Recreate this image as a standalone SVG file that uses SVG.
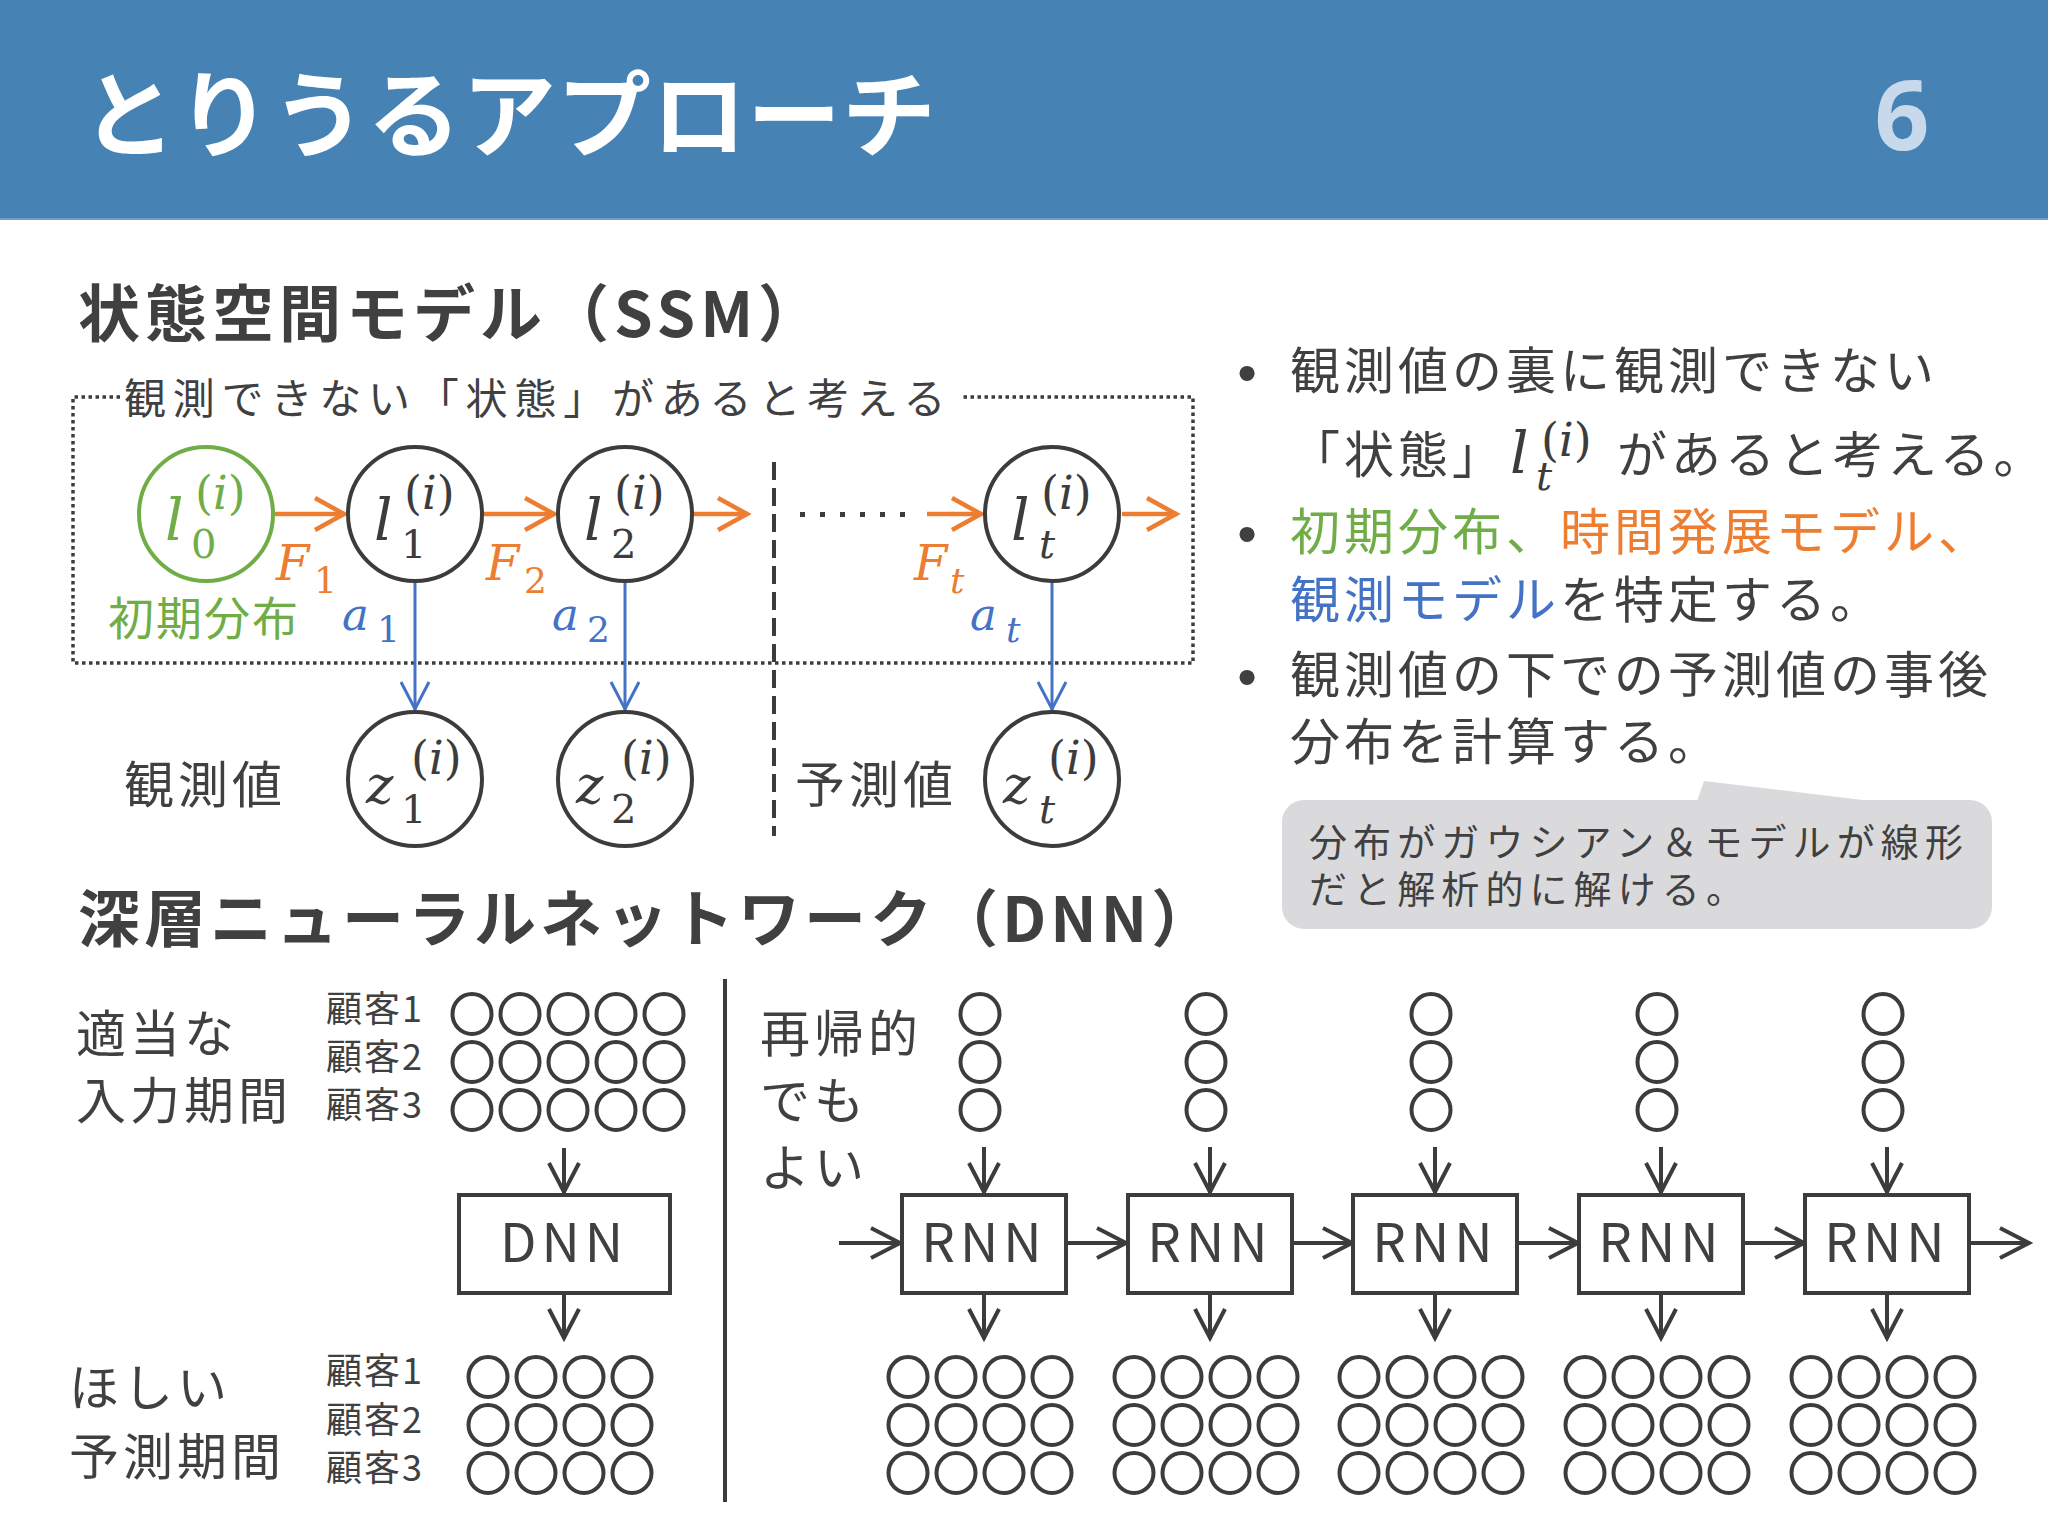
<svg xmlns="http://www.w3.org/2000/svg" width="2048" height="1536" viewBox="0 0 2048 1536">
<defs>
<style>
.jp{font-family:'Noto Sans CJK JP','Noto Sans',sans-serif;fill:#404040}
.b{font-weight:bold}
.m{font-family:'DejaVu Serif','Liberation Serif',serif;font-style:italic;fill:#3c3c3c}
.up{font-style:normal}
.node{fill:none;stroke:#3c3c3c;stroke-width:4}
.cir{fill:none;stroke:#3c3c3c;stroke-width:4}
.box{fill:#fff;stroke:#3c3c3c;stroke-width:4}
.or{stroke:#ED7D31;stroke-width:4.5;fill:none}
.bl{stroke:#4472C4;stroke-width:3;fill:none}
.dk{stroke:#3c3c3c;stroke-width:4;fill:none}
.green{fill:#70AD47}
.orange{fill:#ED7D31}
.blue{fill:#4472C4}
.bul{font-family:'Liberation Sans',sans-serif;font-size:56px;fill:#404040}
</style>
<marker id="ao" viewBox="0 0 32 34" refX="31" refY="17" markerWidth="32" markerHeight="34" markerUnits="userSpaceOnUse" orient="auto" overflow="visible">
<path d="M1,1 L30,17 L1,33" fill="none" stroke="#ED7D31" stroke-width="4.5"/>
</marker>
<marker id="ab" viewBox="0 0 30 30" refX="29" refY="15" markerWidth="30" markerHeight="30" markerUnits="userSpaceOnUse" orient="auto" overflow="visible">
<path d="M1,1 L28,15 L1,29" fill="none" stroke="#4472C4" stroke-width="3"/>
</marker>
<marker id="ad" viewBox="0 0 32 32" refX="31" refY="16" markerWidth="32" markerHeight="32" markerUnits="userSpaceOnUse" orient="auto" overflow="visible">
<path d="M1,1 L30,16 L1,31" fill="none" stroke="#3c3c3c" stroke-width="4"/>
</marker>
<g id="incol" class="cir">
<ellipse cx="0" cy="1014" rx="19.5" ry="20"/><ellipse cx="0" cy="1062" rx="19.5" ry="20"/><ellipse cx="0" cy="1110" rx="19.5" ry="20"/>
</g>
<g id="outgrid" class="cir">
<ellipse cx="-72" cy="1377" rx="19.5" ry="20"/><ellipse cx="-24" cy="1377" rx="19.5" ry="20"/><ellipse cx="24" cy="1377" rx="19.5" ry="20"/><ellipse cx="72" cy="1377" rx="19.5" ry="20"/>
<ellipse cx="-72" cy="1425" rx="19.5" ry="20"/><ellipse cx="-24" cy="1425" rx="19.5" ry="20"/><ellipse cx="24" cy="1425" rx="19.5" ry="20"/><ellipse cx="72" cy="1425" rx="19.5" ry="20"/>
<ellipse cx="-72" cy="1473" rx="19.5" ry="20"/><ellipse cx="-24" cy="1473" rx="19.5" ry="20"/><ellipse cx="24" cy="1473" rx="19.5" ry="20"/><ellipse cx="72" cy="1473" rx="19.5" ry="20"/>
</g>
</defs>
<rect x="0" y="0" width="2048" height="1536" fill="#fff"/>
<!-- header -->
<g id="header">
<rect x="0" y="0" width="2048" height="218" fill="#4682B4"/>
<rect x="0" y="218" width="2048" height="2" fill="#6f9fc9"/>
<text x="82" y="150" class="jp b" font-size="94" style="fill:#fff" letter-spacing="1">とりうるアプローチ</text>
<text x="1902" y="150" font-family="'Noto Sans','Liberation Sans',sans-serif" font-weight="bold" font-size="96" text-anchor="middle" fill="#c8d9ec">6</text>
</g>
<!-- SSM section -->
<text x="78" y="337" class="jp b" font-size="62" letter-spacing="5">状態空間モデル（SSM）</text>
<g id="ssm-frame">
<path d="M120,397 L73,397 L73,663 L1193,663 L1193,397 L962,397" fill="none" stroke="#3c3c3c" stroke-width="3.5" stroke-dasharray="3.5 3.5"/>
<text x="124" y="414" class="jp" font-size="42" letter-spacing="6.8">観測できない「状態」があると考える</text>
</g>
<g id="connectors">
<line x1="275" y1="514" x2="345" y2="514" class="or" marker-end="url(#ao)"/>
<line x1="484" y1="514" x2="555" y2="514" class="or" marker-end="url(#ao)"/>
<line x1="694" y1="514" x2="748" y2="514" class="or" marker-end="url(#ao)"/>
<line x1="927" y1="514" x2="982" y2="514" class="or" marker-end="url(#ao)"/>
<line x1="1122" y1="514" x2="1177" y2="514" class="or" marker-end="url(#ao)"/>
<line x1="415" y1="583" x2="415" y2="710" class="bl" marker-end="url(#ab)"/>
<line x1="625" y1="583" x2="625" y2="710" class="bl" marker-end="url(#ab)"/>
<line x1="1052" y1="583" x2="1052" y2="710" class="bl" marker-end="url(#ab)"/>
<line x1="774" y1="462" x2="774" y2="836" stroke="#3c3c3c" stroke-width="4" stroke-dasharray="18 8"/>
<g fill="#3c3c3c">
<rect x="800" y="512" width="5" height="5"/><rect x="820" y="512" width="5" height="5"/><rect x="840" y="512" width="5" height="5"/><rect x="860" y="512" width="5" height="5"/><rect x="880" y="512" width="5" height="5"/><rect x="900" y="512" width="5" height="5"/>
</g>
<!-- DNN -->
<line x1="564" y1="1148" x2="564" y2="1193" class="dk" marker-end="url(#ad)"/>
<line x1="564" y1="1293" x2="564" y2="1339" class="dk" marker-end="url(#ad)"/>
<!-- RNN -->
<line x1="839" y1="1243" x2="901" y2="1243" class="dk" marker-end="url(#ad)"/>
<line x1="1066" y1="1243" x2="1127" y2="1243" class="dk" marker-end="url(#ad)"/>
<line x1="1292" y1="1243" x2="1353" y2="1243" class="dk" marker-end="url(#ad)"/>
<line x1="1517" y1="1243" x2="1579" y2="1243" class="dk" marker-end="url(#ad)"/>
<line x1="1743" y1="1243" x2="1805" y2="1243" class="dk" marker-end="url(#ad)"/>
<line x1="1969" y1="1243" x2="2030" y2="1243" class="dk" marker-end="url(#ad)"/>
<line x1="984" y1="1147" x2="984" y2="1193" class="dk" marker-end="url(#ad)"/>
<line x1="1210" y1="1147" x2="1210" y2="1193" class="dk" marker-end="url(#ad)"/>
<line x1="1435" y1="1147" x2="1435" y2="1193" class="dk" marker-end="url(#ad)"/>
<line x1="1661" y1="1147" x2="1661" y2="1193" class="dk" marker-end="url(#ad)"/>
<line x1="1887" y1="1147" x2="1887" y2="1193" class="dk" marker-end="url(#ad)"/>
<line x1="984" y1="1293" x2="984" y2="1339" class="dk" marker-end="url(#ad)"/>
<line x1="1210" y1="1293" x2="1210" y2="1339" class="dk" marker-end="url(#ad)"/>
<line x1="1435" y1="1293" x2="1435" y2="1339" class="dk" marker-end="url(#ad)"/>
<line x1="1661" y1="1293" x2="1661" y2="1339" class="dk" marker-end="url(#ad)"/>
<line x1="1887" y1="1293" x2="1887" y2="1339" class="dk" marker-end="url(#ad)"/>
</g>
<!-- edge labels -->
<g id="labels">
<text class="m orange"><tspan x="276" y="580" font-size="48">F</tspan><tspan x="314" y="593" font-size="36" class="up">1</tspan></text>
<text class="m orange"><tspan x="486" y="580" font-size="48">F</tspan><tspan x="524" y="593" font-size="36" class="up">2</tspan></text>
<text class="m orange"><tspan x="914" y="580" font-size="48">F</tspan><tspan x="950" y="593" font-size="36">t</tspan></text>
<text class="m blue"><tspan x="342" y="630" font-size="45">a</tspan><tspan x="377" y="642" font-size="36" class="up">1</tspan></text>
<text class="m blue"><tspan x="552" y="630" font-size="45">a</tspan><tspan x="587" y="642" font-size="36" class="up">2</tspan></text>
<text class="m blue"><tspan x="970" y="630" font-size="45">a</tspan><tspan x="1006" y="642" font-size="36">t</tspan></text>
<text x="108" y="635" class="jp green" font-size="46" letter-spacing="2">初期分布</text>
<text x="124" y="803" class="jp" font-size="50" letter-spacing="4">観測値</text>
<text x="795" y="803" class="jp" font-size="50" letter-spacing="4">予測値</text>
</g>
<!-- SSM nodes -->
<g id="l0">
<ellipse cx="206" cy="514" rx="67" ry="67" fill="none" stroke="#70AD47" stroke-width="4"/>
<text class="m green"><tspan x="165" y="540" font-size="58">l</tspan><tspan x="191" y="558" font-size="40" class="up">0</tspan><tspan x="195" y="509" font-size="46"><tspan class="up">(</tspan>i<tspan class="up">)</tspan></tspan></text>
</g>
<g id="l1">
<ellipse cx="415" cy="514" rx="67" ry="67" class="node"/>
<text class="m"><tspan x="374" y="540" font-size="58">l</tspan><tspan x="401" y="558" font-size="40" class="up">1</tspan><tspan x="404" y="509" font-size="46"><tspan class="up">(</tspan>i<tspan class="up">)</tspan></tspan></text>
</g>
<g id="l2">
<ellipse cx="625" cy="514" rx="67" ry="67" class="node"/>
<text class="m"><tspan x="584" y="540" font-size="58">l</tspan><tspan x="611" y="558" font-size="40" class="up">2</tspan><tspan x="614" y="509" font-size="46"><tspan class="up">(</tspan>i<tspan class="up">)</tspan></tspan></text>
</g>
<g id="lt">
<ellipse cx="1052" cy="514" rx="67" ry="67" class="node"/>
<text class="m"><tspan x="1011" y="540" font-size="58">l</tspan><tspan x="1039" y="558" font-size="40">t</tspan><tspan x="1041" y="509" font-size="46"><tspan class="up">(</tspan>i<tspan class="up">)</tspan></tspan></text>
</g>
<g id="z1">
<ellipse cx="415" cy="779" rx="67" ry="67" class="node"/>
<text class="m"><tspan x="366" y="803" font-size="52">z</tspan><tspan x="401" y="823" font-size="40" class="up">1</tspan><tspan x="411" y="774" font-size="46"><tspan class="up">(</tspan>i<tspan class="up">)</tspan></tspan></text>
</g>
<g id="z2">
<ellipse cx="625" cy="779" rx="67" ry="67" class="node"/>
<text class="m"><tspan x="576" y="803" font-size="52">z</tspan><tspan x="611" y="823" font-size="40" class="up">2</tspan><tspan x="621" y="774" font-size="46"><tspan class="up">(</tspan>i<tspan class="up">)</tspan></tspan></text>
</g>
<g id="zt">
<ellipse cx="1052" cy="779" rx="67" ry="67" class="node"/>
<text class="m"><tspan x="1003" y="803" font-size="52">z</tspan><tspan x="1039" y="823" font-size="40">t</tspan><tspan x="1048" y="774" font-size="46"><tspan class="up">(</tspan>i<tspan class="up">)</tspan></tspan></text>
</g>
<!-- right panel -->
<g id="bullets">
<text x="1247" y="392" class="bul" text-anchor="middle">•</text>
<text x="1247" y="553" class="bul" text-anchor="middle">•</text>
<text x="1247" y="696" class="bul" text-anchor="middle">•</text>
<text x="1290" y="389" class="jp" font-size="50" letter-spacing="4">観測値の裏に観測できない</text>
<text x="1290" y="473" class="jp" font-size="50" letter-spacing="4">「状態」</text>
<text class="m"><tspan x="1510" y="473" font-size="58">l</tspan><tspan x="1536" y="490" font-size="40">t</tspan><tspan x="1541" y="456" font-size="46"><tspan class="up">(</tspan>i<tspan class="up">)</tspan></tspan></text>
<text x="1617" y="473" class="jp" font-size="50" letter-spacing="4">があると考える。</text>
<text x="1290" y="550" class="jp" font-size="50" letter-spacing="4"><tspan style="fill:#70AD47">初期分布、</tspan><tspan style="fill:#ED7D31">時間発展モデル、</tspan></text>
<text x="1290" y="618" class="jp" font-size="50" letter-spacing="4"><tspan style="fill:#4472C4">観測モデル</tspan>を特定する。</text>
<text x="1290" y="693" class="jp" font-size="50" letter-spacing="4">観測値の下での予測値の事後</text>
<text x="1290" y="760" class="jp" font-size="50" letter-spacing="4">分布を計算する。</text>
</g>
<g id="callout">
<rect x="1282" y="800" width="710" height="129" rx="22" fill="#DADADC"/>
<polygon points="1697,801 1704,781 1871,801" fill="#DADADC"/>
<text class="jp" font-size="38" letter-spacing="6.1"><tspan x="1309" y="856">分布がガウシアン＆モデルが線形</tspan><tspan x="1309" y="903">だと解析的に解ける。</tspan></text>
</g>
<!-- DNN section -->
<text x="78" y="942" class="jp b" font-size="62" letter-spacing="4">深層ニューラルネットワーク（DNN）</text>
<line x1="725" y1="979" x2="725" y2="1502" stroke="#3c3c3c" stroke-width="4"/>
<g id="dnn-labels">
<text x="76" y="1052" class="jp" font-size="50" letter-spacing="4">適当な</text>
<text x="76" y="1119" class="jp" font-size="50" letter-spacing="4">入力期間</text>
<text x="69" y="1406" class="jp" font-size="50" letter-spacing="4">ほしい</text>
<text x="69" y="1475" class="jp" font-size="50" letter-spacing="4">予測期間</text>
<text x="326" y="1022" class="jp" font-size="36" letter-spacing="2">顧客1</text>
<text x="326" y="1070" class="jp" font-size="36" letter-spacing="2">顧客2</text>
<text x="326" y="1118" class="jp" font-size="36" letter-spacing="2">顧客3</text>
<text x="326" y="1384" class="jp" font-size="36" letter-spacing="2">顧客1</text>
<text x="326" y="1433" class="jp" font-size="36" letter-spacing="2">顧客2</text>
<text x="326" y="1481" class="jp" font-size="36" letter-spacing="2">顧客3</text>
<text x="760" y="1052" class="jp" font-size="50" letter-spacing="4">再帰的</text>
<text x="760" y="1119" class="jp" font-size="50" letter-spacing="4">でも</text>
<text x="760" y="1186" class="jp" font-size="50" letter-spacing="4">よい</text>
</g>
<g id="dnn-input">
<g class="cir">
<ellipse cx="472" cy="1014" rx="19.5" ry="20"/><ellipse cx="520" cy="1014" rx="19.5" ry="20"/><ellipse cx="568" cy="1014" rx="19.5" ry="20"/><ellipse cx="616" cy="1014" rx="19.5" ry="20"/><ellipse cx="664" cy="1014" rx="19.5" ry="20"/>
<ellipse cx="472" cy="1062" rx="19.5" ry="20"/><ellipse cx="520" cy="1062" rx="19.5" ry="20"/><ellipse cx="568" cy="1062" rx="19.5" ry="20"/><ellipse cx="616" cy="1062" rx="19.5" ry="20"/><ellipse cx="664" cy="1062" rx="19.5" ry="20"/>
<ellipse cx="472" cy="1110" rx="19.5" ry="20"/><ellipse cx="520" cy="1110" rx="19.5" ry="20"/><ellipse cx="568" cy="1110" rx="19.5" ry="20"/><ellipse cx="616" cy="1110" rx="19.5" ry="20"/><ellipse cx="664" cy="1110" rx="19.5" ry="20"/>
</g>
</g>
<g id="dnn">
<rect x="459" y="1195" width="211" height="98" class="box"/>
<text x="564" y="1262" class="jp" font-size="53" letter-spacing="5" text-anchor="middle">DNN</text>
</g>
<g id="dnn-output">
<g class="cir">
<ellipse cx="488" cy="1377" rx="19.5" ry="20"/><ellipse cx="536" cy="1377" rx="19.5" ry="20"/><ellipse cx="584" cy="1377" rx="19.5" ry="20"/><ellipse cx="632" cy="1377" rx="19.5" ry="20"/>
<ellipse cx="488" cy="1425" rx="19.5" ry="20"/><ellipse cx="536" cy="1425" rx="19.5" ry="20"/><ellipse cx="584" cy="1425" rx="19.5" ry="20"/><ellipse cx="632" cy="1425" rx="19.5" ry="20"/>
<ellipse cx="488" cy="1473" rx="19.5" ry="20"/><ellipse cx="536" cy="1473" rx="19.5" ry="20"/><ellipse cx="584" cy="1473" rx="19.5" ry="20"/><ellipse cx="632" cy="1473" rx="19.5" ry="20"/>
</g>
</g>
<!-- RNN units -->
<g id="rnn1">
<use href="#incol" x="980"/>
<rect x="902" y="1195" width="164" height="98" class="box"/>
<text x="984" y="1262" class="jp" font-size="53" letter-spacing="5" text-anchor="middle">RNN</text>
<use href="#outgrid" x="980"/>
</g>
<g id="rnn2">
<use href="#incol" x="1206"/>
<rect x="1128" y="1195" width="164" height="98" class="box"/>
<text x="1210" y="1262" class="jp" font-size="53" letter-spacing="5" text-anchor="middle">RNN</text>
<use href="#outgrid" x="1206"/>
</g>
<g id="rnn3">
<use href="#incol" x="1431"/>
<rect x="1353" y="1195" width="164" height="98" class="box"/>
<text x="1435" y="1262" class="jp" font-size="53" letter-spacing="5" text-anchor="middle">RNN</text>
<use href="#outgrid" x="1431"/>
</g>
<g id="rnn4">
<use href="#incol" x="1657"/>
<rect x="1579" y="1195" width="164" height="98" class="box"/>
<text x="1661" y="1262" class="jp" font-size="53" letter-spacing="5" text-anchor="middle">RNN</text>
<use href="#outgrid" x="1657"/>
</g>
<g id="rnn5">
<use href="#incol" x="1883"/>
<rect x="1805" y="1195" width="164" height="98" class="box"/>
<text x="1887" y="1262" class="jp" font-size="53" letter-spacing="5" text-anchor="middle">RNN</text>
<use href="#outgrid" x="1883"/>
</g>
</svg>
